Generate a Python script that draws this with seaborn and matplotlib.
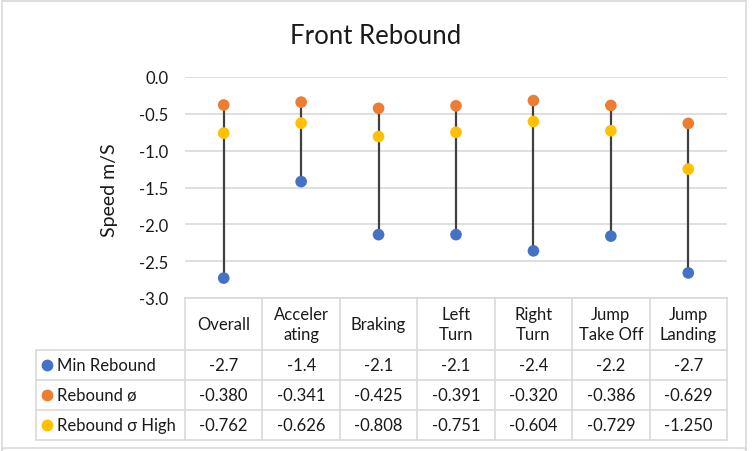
import numpy as np
import pandas as pd
import seaborn as sns
import matplotlib.pyplot as plt
import matplotlib.transforms as mtransforms
from matplotlib.lines import Line2D
from matplotlib.patches import FancyBboxPatch

# chart data
categories = ["Overall", "Acceler\nating", "Braking", "Left\nTurn",
              "Right\nTurn", "Jump\nTake Off", "Jump\nLanding"]
min_rebound = [-2.73, -1.42, -2.14, -2.14, -2.36, -2.16, -2.66]
rebound_mean = [-0.380, -0.341, -0.425, -0.391, -0.320, -0.386, -0.629]
rebound_sigma_high = [-0.762, -0.626, -0.808, -0.751, -0.604, -0.729, -1.250]
series_names = ["Min Rebound", "Rebound ø", "Rebound σ High"]
series_colors = ["#4472C4", "#ED7D31", "#FFC000"]
y_ticks = [0.0, -0.5, -1.0, -1.5, -2.0, -2.5, -3.0]

sns.set_theme(style="white")
plt.rcParams["font.family"] = ["Lato", "DejaVu Sans"]
plt.rcParams["axes.unicode_minus"] = False
text_color = "#1a1a1a"
grid_color = "#d9d9d9"

W, H = 752, 452
fig = plt.figure(figsize=(W / 100, H / 100), dpi=100)
# pixel coords with origin top-left
px = mtransforms.Affine2D().scale(1 / W, -1 / H).translate(0, 1) + fig.transFigure

# outer chart border
fig.add_artist(FancyBboxPatch((2, 449), 744, -447, boxstyle="round,pad=0,rounding_size=3",
                              transform=px, fill=False, ec=grid_color, lw=1.2))

# plot area
left, right, top, bottom = 185, 727, 78, 299
ax = fig.add_axes([left / W, (H - bottom) / H, (right - left) / W, (bottom - top) / H])

long = pd.DataFrame({
    "cat": np.tile(np.arange(len(categories)), 3),
    "value": min_rebound + rebound_mean + rebound_sigma_high,
    "series": np.repeat(series_names, len(categories)),
})

ax.vlines(np.arange(len(categories)), min_rebound, rebound_mean,
          color="#404040", lw=1.6, zorder=2)
sns.scatterplot(data=long, x="cat", y="value", hue="series", hue_order=series_names,
                palette=series_colors, s=70, linewidth=0, legend=False, ax=ax, zorder=3)

ax.set_xlim(-0.5, len(categories) - 0.5)
ax.set_ylim(-3.0, 0.0)
ax.set_yticks(y_ticks)
ax.set_yticklabels([f"{t:.1f}" for t in y_ticks], fontsize=12, color=text_color)
ax.tick_params(axis="y", length=0, pad=12)
ax.set_xticks([])
ax.set_xlabel("")
ax.set_ylabel("")
ax.grid(axis="y", color=grid_color, lw=1.2)
ax.set_axisbelow(True)
for s in ax.spines.values():
    s.set_visible(False)

fig.text(376, 37, "Front Rebound", transform=px, fontsize=18.5, color=text_color,
         ha="center", va="center")
fig.text(110, 190, "Speed m/S", transform=px, fontsize=14, color=text_color,
         ha="center", va="center", rotation=90)

# data table
col_w = (right - left) / len(categories)
row_lines = [351, 381, 411, 441]
table_left = 36


def hline(y, x0, x1):
    fig.add_artist(Line2D([x0, x1], [y, y], transform=px, color=grid_color, lw=1.2))


def vline(x, y0, y1):
    fig.add_artist(Line2D([x, x], [y0, y1], transform=px, color=grid_color, lw=1.2))


hline(bottom, left, right)
for y in row_lines:
    hline(y, table_left, right)
vline(table_left, row_lines[0], row_lines[-1])
for i in range(len(categories) + 1):
    vline(left + i * col_w, bottom, row_lines[-1])

for i, cat in enumerate(categories):
    fig.text(left + (i + 0.5) * col_w, (bottom + row_lines[0]) / 2, cat, transform=px,
             fontsize=12, color=text_color, ha="center", va="center", linespacing=1.25)

table_rows = [
    [f"{v:.1f}" for v in min_rebound],
    [f"{v:.3f}" for v in rebound_mean],
    [f"{v:.3f}" for v in rebound_sigma_high],
]
for r, (name, color, vals) in enumerate(zip(series_names, series_colors, table_rows)):
    yc = (row_lines[r] + row_lines[r + 1]) / 2
    fig.add_artist(Line2D([47], [yc], transform=px, marker="o", ms=8.5, color=color, mew=0))
    fig.text(57, yc, name, transform=px, fontsize=12, color=text_color, ha="left", va="center")
    for i, v in enumerate(vals):
        fig.text(left + (i + 0.5) * col_w, yc, v, transform=px, fontsize=12,
                 color=text_color, ha="center", va="center")

fig.savefig("out.png", dpi=100)
